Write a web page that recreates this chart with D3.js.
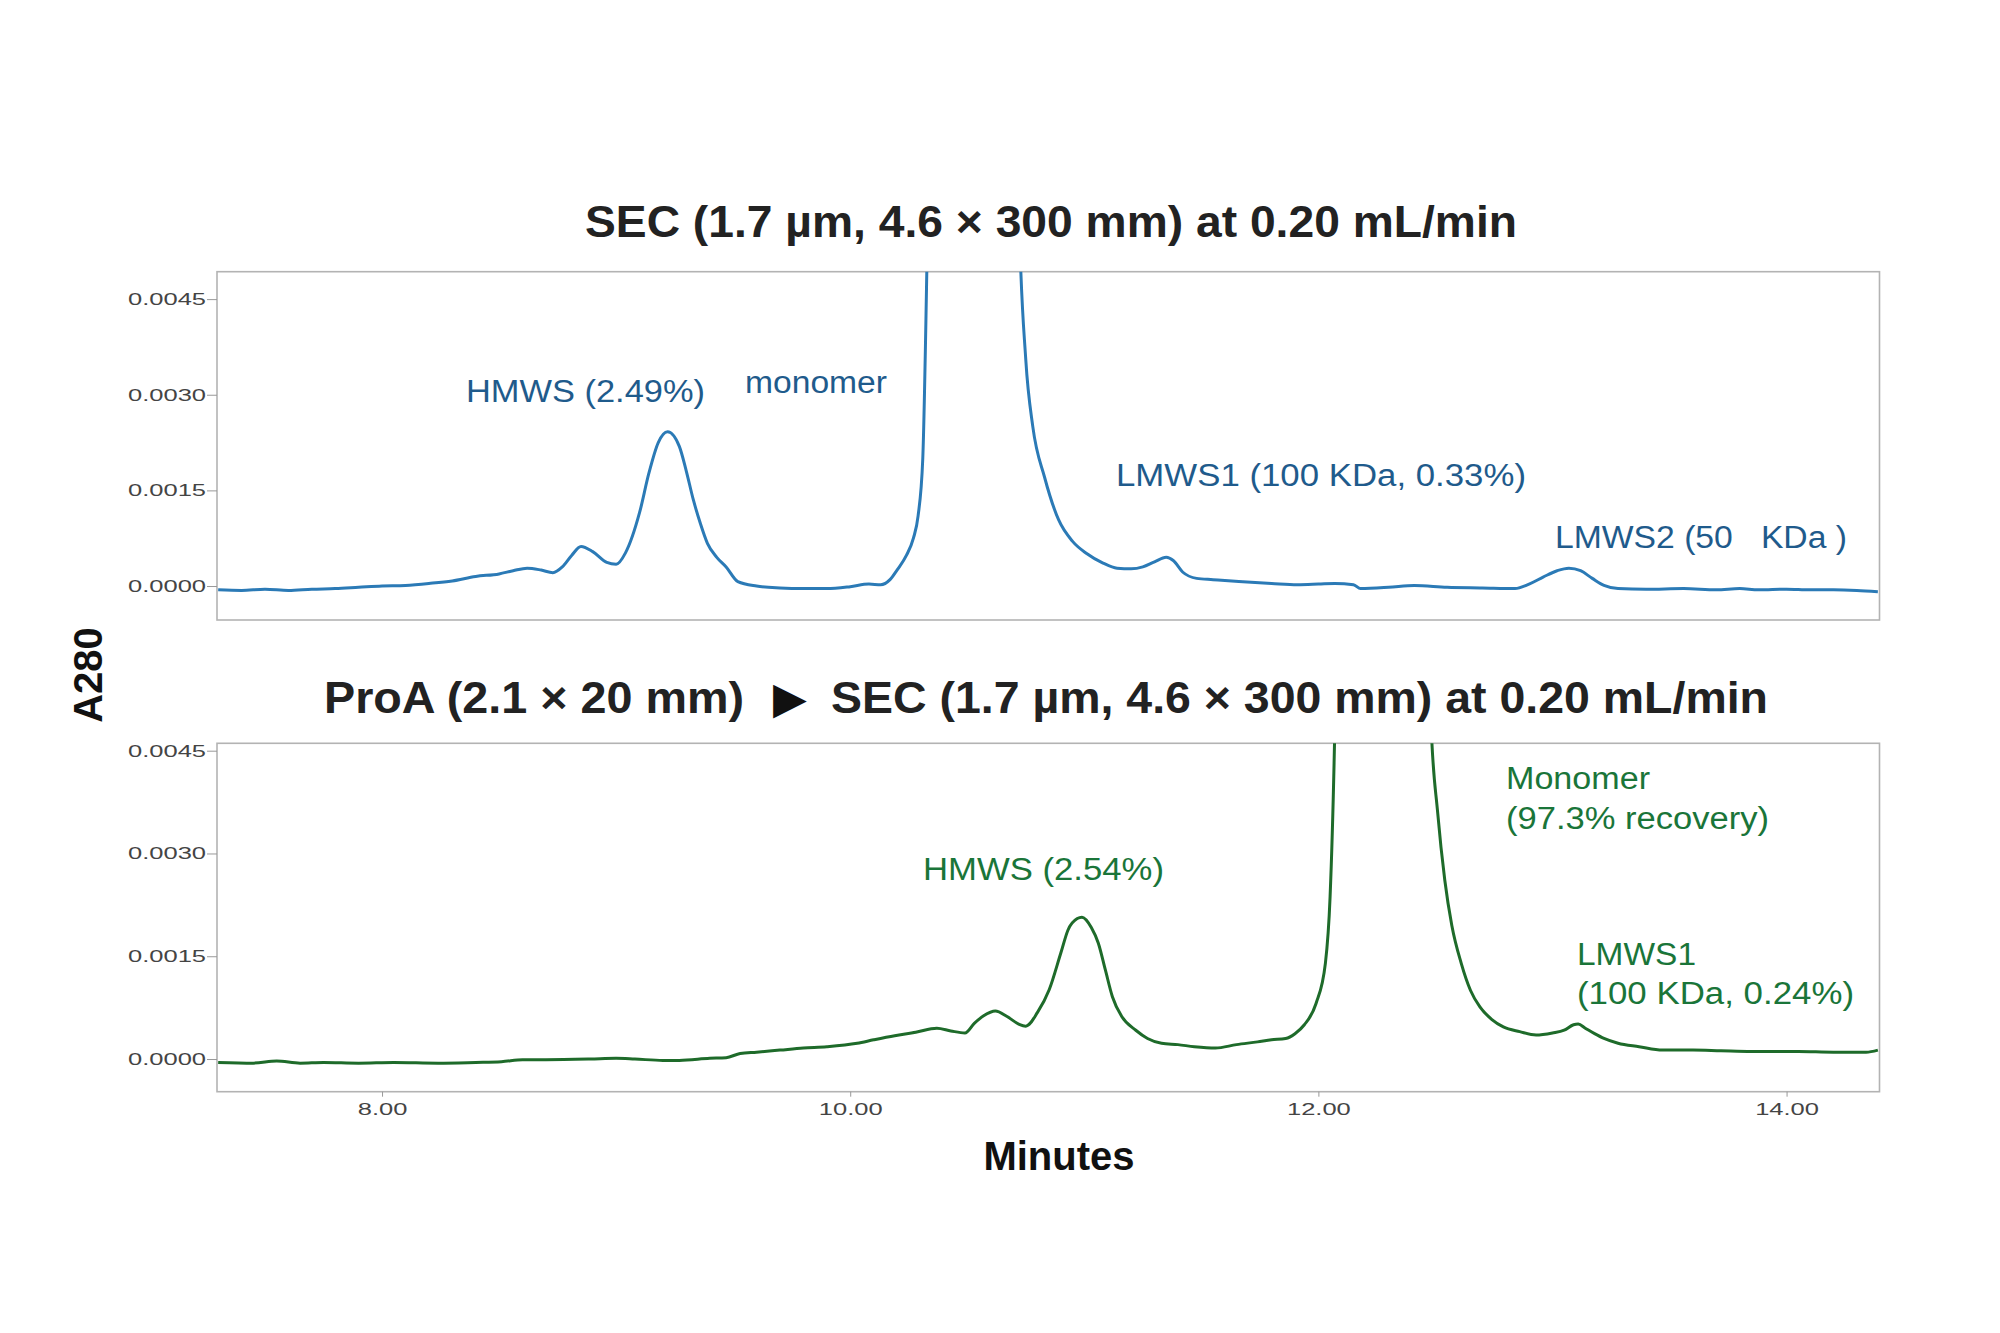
<!DOCTYPE html>
<html>
<head>
<meta charset="utf-8">
<script src="https://cdn.jsdelivr.net/npm/d3@7/dist/d3.min.js"></script>
<style>
  html, body { margin: 0; padding: 0; background: #ffffff; }
  svg text { font-family: "Liberation Sans", Arial, sans-serif; }
</style>
</head>
<body>
<svg id="chart" width="2000" height="1333"></svg>
<script>
// ---------------- DATA ----------------
const xTickValues = [8, 10, 12, 14];
const yTickValues = [0, 0.0015, 0.0030, 0.0045];

const topTitle = "SEC (1.7 µm, 4.6 × 300 mm) at 0.20 mL/min";
const bottomTitleLeft = "ProA (2.1 × 20 mm)";
const bottomTitleArrow = "▶";
const bottomTitleRight = "SEC (1.7 µm, 4.6 × 300 mm) at 0.20 mL/min";
const xAxisTitle = "Minutes";
const yAxisTitle = "A280";

// SEC trace (minutes, A280)
const topTime = [7.30,7.40,7.50,7.60,7.70,7.80,7.90,8.00,8.10,8.20,8.30,8.40,8.50,8.56,8.62,8.68,8.73,8.77,8.81,8.85,8.90,8.96,9.00,9.04,9.10,9.14,9.18,9.22,9.27,9.30,9.33,9.36,9.39,9.43,9.47,9.52,9.60,9.70,9.80,9.90,10.00,10.08,10.13,10.17,10.20,10.24,10.27,10.29,10.31,10.33,10.40,10.53,10.66,10.72,10.75,10.78,10.83,10.89,10.95,11.01,11.08,11.14,11.20,11.25,11.30,11.35,11.38,11.42,11.48,11.55,11.66,11.80,11.91,12.00,12.07,12.15,12.18,12.30,12.41,12.55,12.70,12.84,12.90,12.96,13.02,13.07,13.12,13.17,13.22,13.28,13.40,13.56,13.70,13.80,13.88,14.00,14.10,14.20,14.30,14.39];
const topA280 = [-0.00006,-0.00007,-0.00005,-0.00007,-0.00005,-0.00004,-0.00002,0.00000,0.00001,0.00004,0.00008,0.00015,0.00019,0.00024,0.00028,0.00025,0.00021,0.00030,0.00048,0.00062,0.00054,0.00037,0.00034,0.00052,0.00115,0.00177,0.00225,0.00242,0.00219,0.00180,0.00135,0.00098,0.00067,0.00045,0.00030,0.00007,0.00000,-0.00003,-0.00004,-0.00004,-0.00001,0.00003,0.00002,0.00010,0.00025,0.00048,0.00075,0.00110,0.00200,0.00550,0.02500,0.06000,0.02500,0.00600,0.00355,0.00250,0.00171,0.00104,0.00070,0.00051,0.00036,0.00028,0.00027,0.00030,0.00038,0.00045,0.00040,0.00022,0.00012,0.00010,0.00007,0.00004,0.00002,0.00003,0.00004,0.00002,-0.00004,-0.00002,0.00001,-0.00002,-0.00003,-0.00004,0.00003,0.00014,0.00024,0.00028,0.00024,0.00012,0.00001,-0.00004,-0.00005,-0.00004,-0.00006,-0.00004,-0.00006,-0.00005,-0.00006,-0.00006,-0.00007,-0.00009];

// ProA -> SEC trace (minutes, A280)
const bottomTime = [7.30,7.45,7.55,7.65,7.75,7.90,8.05,8.24,8.40,8.51,8.60,8.70,8.89,9.00,9.08,9.20,9.27,9.40,9.47,9.53,9.60,9.70,9.80,9.90,10.03,10.10,10.19,10.28,10.37,10.43,10.49,10.53,10.57,10.62,10.67,10.72,10.75,10.80,10.85,10.90,10.93,10.97,10.99,11.03,11.06,11.09,11.12,11.16,11.22,11.27,11.33,11.40,11.47,11.56,11.65,11.74,11.80,11.86,11.90,11.94,11.99,12.03,12.05,12.07,12.12,12.28,12.42,12.48,12.51,12.54,12.57,12.61,12.65,12.69,12.74,12.79,12.86,12.93,13.00,13.05,13.09,13.11,13.14,13.18,13.22,13.28,13.37,13.47,13.60,13.72,13.85,14.05,14.20,14.34,14.39];
const bottomA280 = [-0.00005,-0.00006,-0.00003,-0.00006,-0.00005,-0.00006,-0.00005,-0.00006,-0.00005,-0.00004,-0.00001,-0.00001,0.00000,0.00001,0.00000,-0.00002,-0.00002,0.00001,0.00002,0.00008,0.00010,0.00013,0.00016,0.00018,0.00023,0.00028,0.00034,0.00039,0.00045,0.00041,0.00038,0.00052,0.00063,0.00070,0.00062,0.00051,0.00048,0.00068,0.00101,0.00155,0.00188,0.00205,0.00207,0.00192,0.00169,0.00130,0.00091,0.00062,0.00042,0.00030,0.00023,0.00021,0.00018,0.00016,0.00021,0.00025,0.00028,0.00030,0.00037,0.00050,0.00081,0.00140,0.00237,0.00480,0.02000,0.06000,0.02000,0.00500,0.00358,0.00261,0.00195,0.00140,0.00100,0.00076,0.00058,0.00047,0.00040,0.00035,0.00038,0.00042,0.00050,0.00051,0.00045,0.00037,0.00030,0.00023,0.00018,0.00013,0.00013,0.00012,0.00011,0.00011,0.00010,0.00010,0.00013];

const topLabels = [["HMWS (2.49%)"], ["monomer"], ["LMWS1 (100 KDa, 0.33%)"], ["LMWS2 (50   KDa )"]];
const bottomLabels = [["HMWS (2.54%)"], ["Monomer", "(97.3% recovery)"], ["LMWS1", "(100 KDa, 0.24%)"]];

// ---------------- LAYOUT ----------------
const svg = d3.select("#chart");
const plotLeft = 217, plotRight = 1879.5;
const panels = [
  { top: 271.7, bottom: 620, domain: [-0.000533, 0.00493], time: topTime, vals: topA280, color: "#2b7ab6", textColor: "#1f5b8c", labels: topLabels,
    labelPos: [ {x: 466, y: 402, w: [239]}, {x: 745, y: 393, w: [142]}, {x: 1116, y: 486, w: [410]}, {x: 1555, y: 548, w: [292]} ] },
  { top: 743.3, bottom: 1091.7, domain: [-0.000477, 0.004608], time: bottomTime, vals: bottomA280, color: "#1e6b2a", textColor: "#1a7539", labels: bottomLabels,
    labelPos: [ {x: 923, y: 880, w: [241]}, {x: 1506, y: 789, w: [144, 263], dy: 40}, {x: 1577, y: 965, w: [119, 277], dy: 39} ] }
];

const x = d3.scaleLinear().domain([7.295, 14.397]).range([plotLeft, plotRight]);

panels.forEach((p, i) => {
  const y = d3.scaleLinear().domain(p.domain).range([p.bottom, p.top]);
  const g = svg.append("g");

  const clipId = "clip" + i;
  svg.append("clipPath").attr("id", clipId).append("rect")
    .attr("x", plotLeft).attr("y", p.top).attr("width", plotRight - plotLeft).attr("height", p.bottom - p.top);

  // frame
  g.append("rect").attr("x", plotLeft).attr("y", p.top)
    .attr("width", plotRight - plotLeft).attr("height", p.bottom - p.top)
    .attr("fill", "none").attr("stroke", "#b3b3b3").attr("stroke-width", 1.6);

  // y axis
  const yAxis = d3.axisLeft(y).tickValues(yTickValues).tickFormat(d3.format(".4f")).tickSize(10).tickPadding(1);
  const ya = g.append("g").attr("transform", `translate(${plotLeft},0)`).call(yAxis);
  ya.select(".domain").remove();
  ya.selectAll(".tick line").attr("stroke", "#999").attr("stroke-width", 1);
  ya.selectAll(".tick text").attr("font-size", 17).attr("fill", "#444")
    .attr("font-family", "Liberation Sans, Arial, sans-serif")
    .each(function() { const w = this.getComputedTextLength(); d3.select(this).attr("textLength", w * 1.5).attr("lengthAdjust", "spacingAndGlyphs"); });

  // trace
  const pts = p.time.map((t, k) => [t, p.vals[k]]);
  const line = d3.line().x(d => x(d[0])).y(d => y(d[1])).curve(d3.curveMonotoneX);
  g.append("path").datum(pts).attr("clip-path", `url(#${clipId})`)
    .attr("d", line).attr("fill", "none").attr("stroke", p.color)
    .attr("stroke-width", 3).attr("stroke-linejoin", "round");

  // annotations
  p.labels.forEach((lines, j) => {
    const pos = p.labelPos[j];
    lines.forEach((txt, k) => {
      g.append("text").attr("x", pos.x).attr("y", pos.y + k * (pos.dy || 0))
        .attr("font-size", 31).attr("fill", p.textColor)
        .style("white-space", "pre").attr("xml:space", "preserve")
        .attr("textLength", pos.w[k]).attr("lengthAdjust", "spacingAndGlyphs")
        .text(txt);
    });
  });

  if (i === 1) {
    const xAxis = d3.axisBottom(x).tickValues(xTickValues).tickFormat(d3.format(".2f")).tickSize(5).tickPadding(6);
    const xa = g.append("g").attr("transform", `translate(0,${p.bottom})`).call(xAxis);
    xa.select(".domain").remove();
    xa.selectAll(".tick line").attr("stroke", "#999");
    xa.selectAll(".tick text").attr("font-size", 17).attr("fill", "#444")
      .attr("font-family", "Liberation Sans, Arial, sans-serif")
      .each(function() { const w = this.getComputedTextLength(); d3.select(this).attr("textLength", w * 1.5).attr("lengthAdjust", "spacingAndGlyphs"); });
  }
});

// titles
const titleStyle = sel => sel.attr("font-size", 44).attr("font-weight", "bold").attr("fill", "#222")
  .attr("lengthAdjust", "spacingAndGlyphs");
svg.append("text").attr("x", 585).attr("y", 237).attr("textLength", 932).call(titleStyle).text(topTitle);
svg.append("text").attr("x", 324).attr("y", 713).attr("textLength", 420).call(titleStyle).text(bottomTitleLeft);
svg.append("text").attr("x", 773).attr("y", 713).attr("font-size", 44).attr("fill", "#111")
  .attr("font-family", "DejaVu Sans").text(bottomTitleArrow);
svg.append("text").attr("x", 831).attr("y", 713).attr("textLength", 937).call(titleStyle).text(bottomTitleRight);

// axis titles
svg.append("text").attr("x", 1059).attr("y", 1170).attr("text-anchor", "middle")
  .attr("font-size", 40).attr("font-weight", "bold").attr("fill", "#111").text(xAxisTitle);
svg.append("text").attr("transform", "translate(102,675) rotate(-90)").attr("text-anchor", "middle")
  .attr("font-size", 40).attr("font-weight", "bold").attr("fill", "#111").text(yAxisTitle);
</script>
</body>
</html>
